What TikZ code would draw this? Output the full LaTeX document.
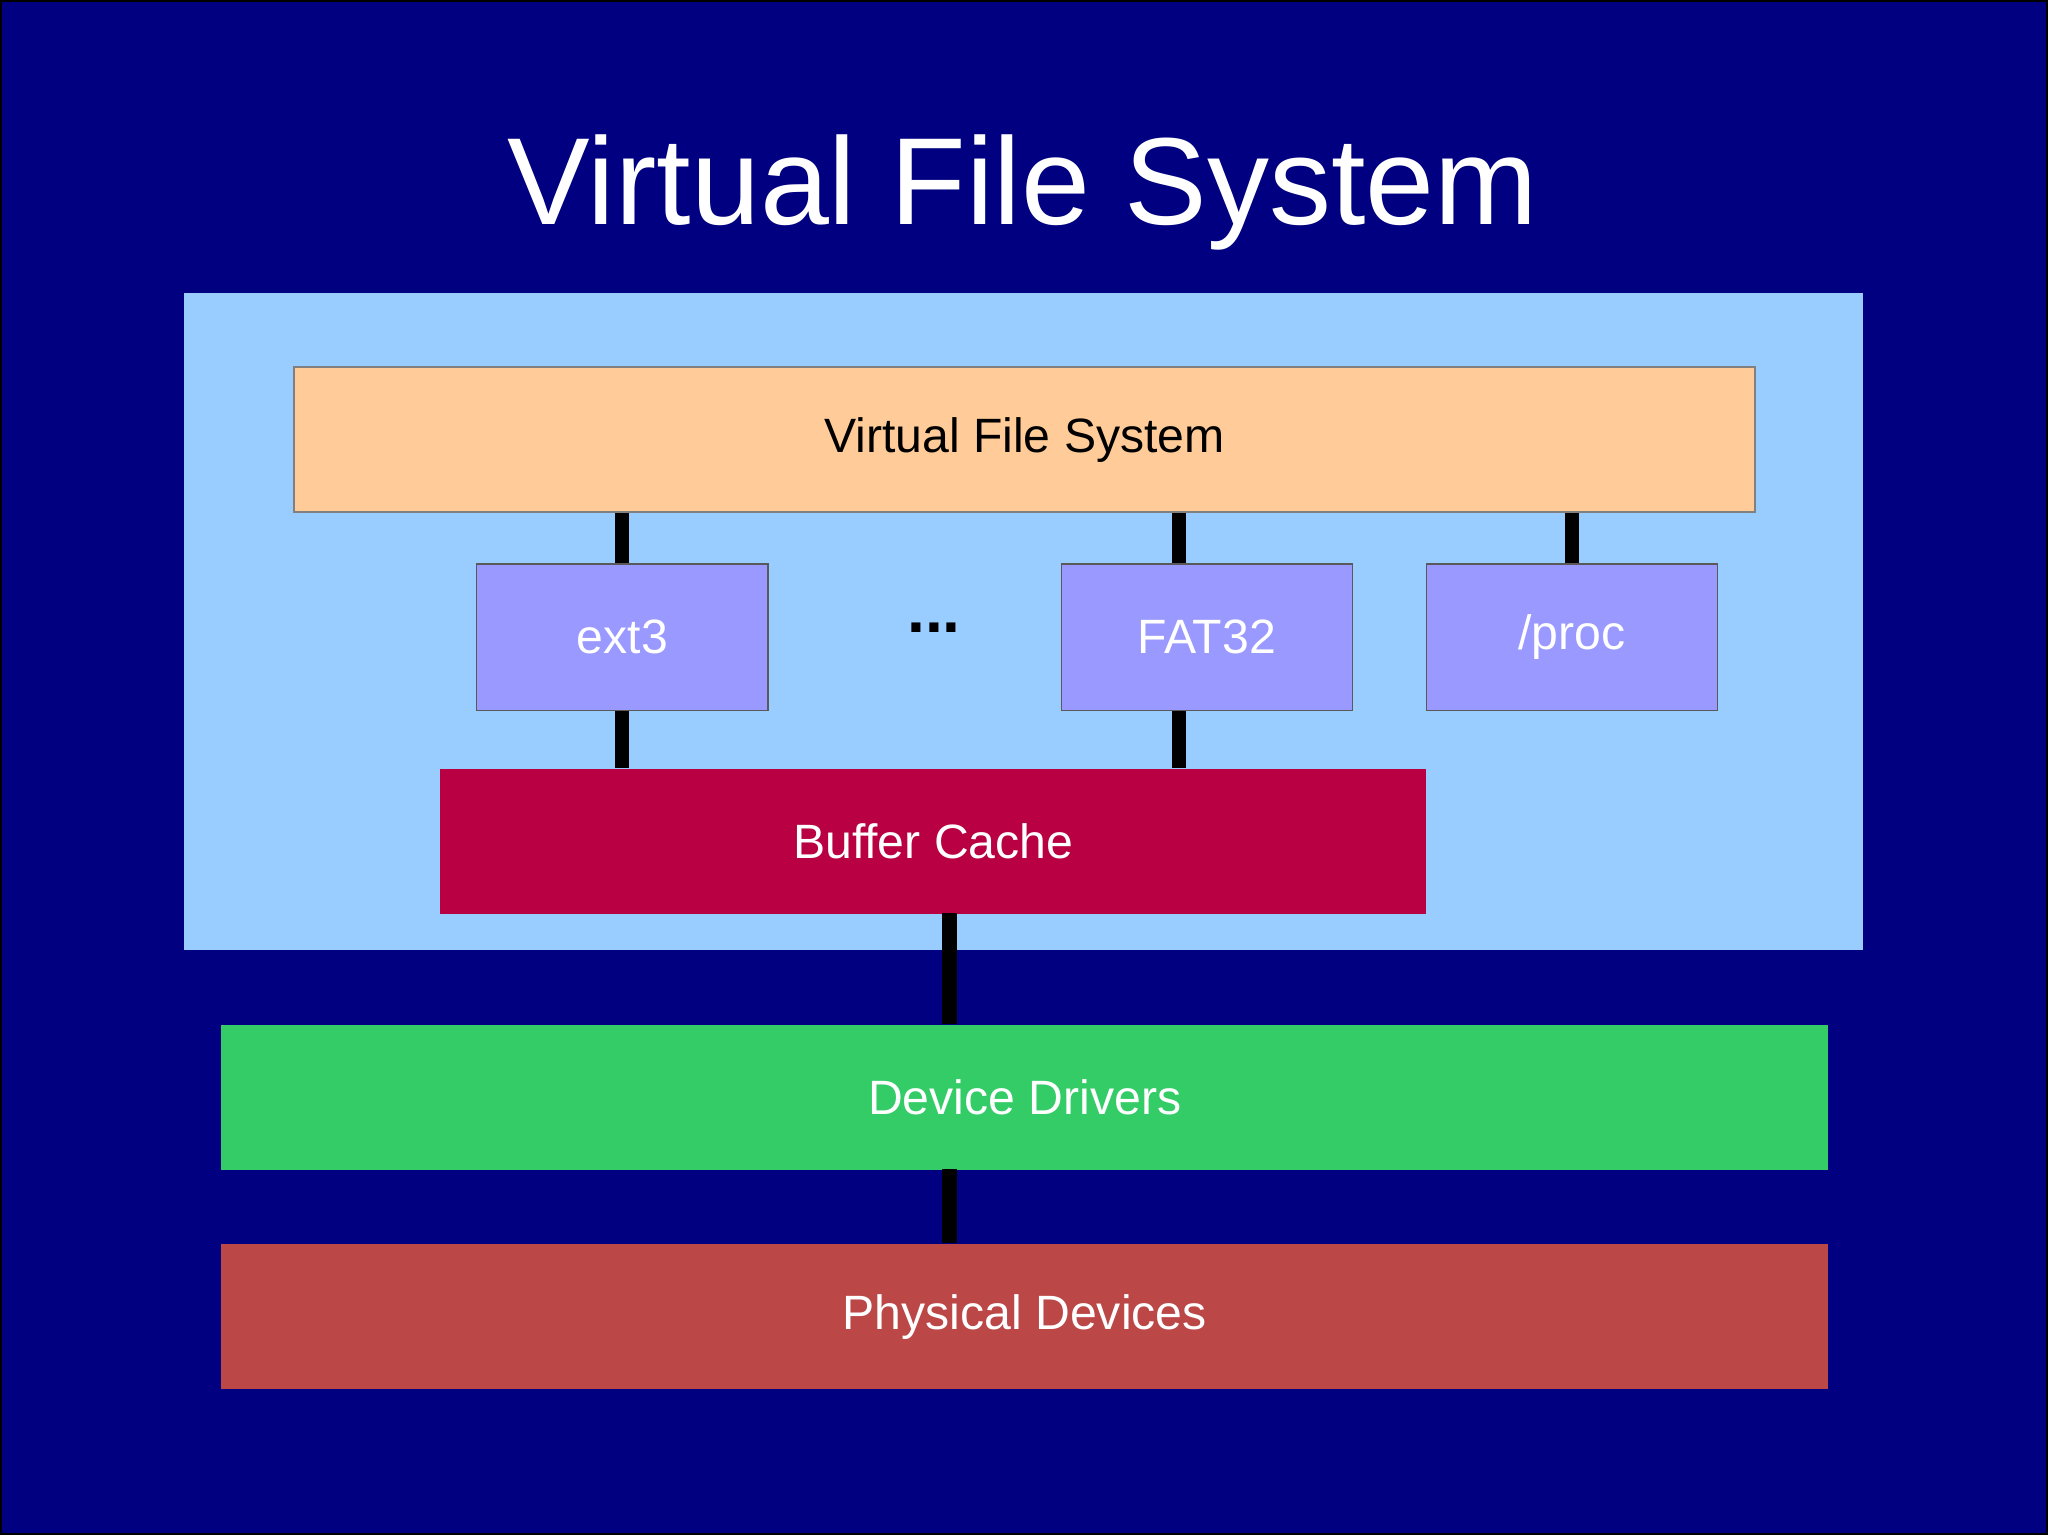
\documentclass[tikz,border=0pt]{standalone}
\usepackage{fontspec}
\setmainfont{Liberation Sans}
\usetikzlibrary{positioning}
\definecolor{navy}{HTML}{000080}
\definecolor{panel}{HTML}{99CCFF}
\definecolor{vfs}{HTML}{FFCC99}
\definecolor{fs}{HTML}{9999FF}
\definecolor{cache}{HTML}{B80042}
\definecolor{drv}{HTML}{33CC66}
\definecolor{phys}{HTML}{BB4747}
\tikzset{
  layer/.style={draw=none, anchor=north west, inner sep=0pt, font=\fontsize{10.5}{12}\selectfont},
  fsbox/.style={layer, fill=fs, draw=gray!70!black, line width=0.3pt, text=white,
    minimum width=2.23cm, minimum height=1.12cm},
  link/.style={line width=1.1mm, black}
}
\begin{document}
\begin{tikzpicture}[x=0.01cm, y=-0.01cm]
  % background
  \fill[navy] (0,0) rectangle (1568,1175);
  \draw[black, line width=0.5pt] (0,0) rectangle (1568,1175);
  \node[text=white, font=\fontsize{27}{30}\selectfont] (title) at (783,147) {Virtual File System};
  \fill[panel] (140,224) rectangle (1427,727);

  \node[layer, fill=vfs, draw=gray, line width=0.3pt, minimum width=11.19cm, minimum height=1.11cm] (vfs) at (224,280) {Virtual File System};
  \node[fsbox] (ext) at (364,431) {ext3};
  \node[fsbox] (fat) at (812,431) {FAT32};
  \node[fsbox] (proc) at (1092,431) {/proc};
  \node[font=\fontsize{14}{14}\selectfont\bfseries] (dots) at (715,480) {...};
  \node[layer, fill=cache, text=white, minimum width=7.55cm, minimum height=1.11cm] (cache) at (336,588) {Buffer Cache};
  \node[layer, fill=drv, text=white, minimum width=12.31cm, minimum height=1.11cm] (drv) at (168,784) {Device Drivers};
  \node[layer, fill=phys, text=white, minimum width=12.31cm, minimum height=1.11cm] (phys) at (168,952) {Physical Devices};

  % connectors
  \draw[link] (ext.north) ++(0,0) coordinate (e1) -- (e1 |- vfs.south);
  \draw[link] (ext.south) -- (ext.south |- cache.north);
  \draw[link] ([xshift=-6]fat.north) -- ([xshift=-6]fat.north |- vfs.south);
  \draw[link] ([xshift=-6]fat.south) -- ([xshift=-6]fat.south |- cache.north);
  \draw[link] (proc.north) -- (proc.north |- vfs.south);
  \draw[link] (727,699) coordinate (c1) -- (c1 |- drv.north);
  \draw[link] (727,895) coordinate (d1) -- (d1 |- phys.north);
\end{tikzpicture}
\end{document}
